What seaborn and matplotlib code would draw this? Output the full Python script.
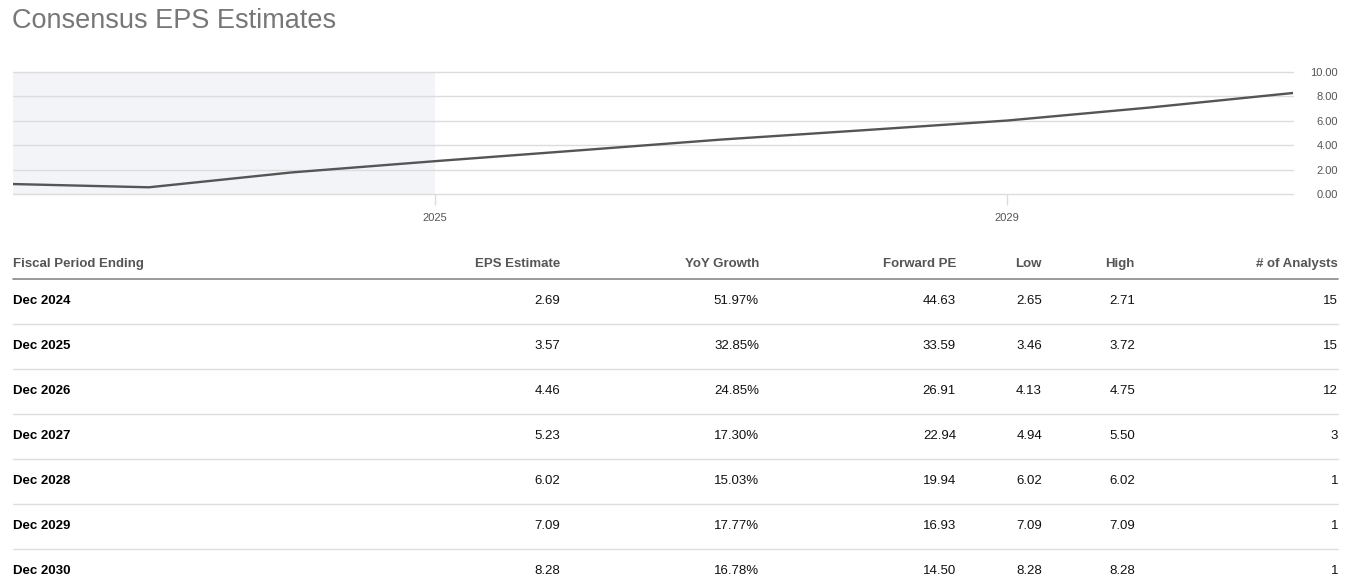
import matplotlib
matplotlib.use("Agg")
import matplotlib.pyplot as plt
import seaborn as sns
import pandas as pd

# chart data: EPS by fiscal year end (plotted at start of the following year)
eps_x = [2022, 2023, 2024, 2025, 2026, 2027, 2028, 2029, 2030, 2031]
eps_y = [0.83, 0.55, 1.77, 2.69, 3.57, 4.46, 5.23, 6.02, 7.09, 8.28]
hist_end = 2025

# table data
periods = ['Dec 2024', 'Dec 2025', 'Dec 2026', 'Dec 2027', 'Dec 2028', 'Dec 2029', 'Dec 2030']
eps_est = ['2.69', '3.57', '4.46', '5.23', '6.02', '7.09', '8.28']
yoy = ['51.97%', '32.85%', '24.85%', '17.30%', '15.03%', '17.77%', '16.78%']
fwd_pe = ['44.63', '33.59', '26.91', '22.94', '19.94', '16.93', '14.50']
low = ['2.65', '3.46', '4.13', '4.94', '6.02', '7.09', '8.28']
high = ['2.71', '3.72', '4.75', '5.50', '6.02', '7.09', '8.28']
analysts = ['15', '15', '12', '3', '1', '1', '1']
headers = ['Fiscal Period Ending', 'EPS Estimate', 'YoY Growth', 'Forward PE', 'Low', 'High', '# of Analysts']

sns.set_theme(style="white")
plt.rcParams['font.family'] = ['Liberation Sans', 'DejaVu Sans']

W, H = 1363, 587
fig = plt.figure(figsize=(W / 100, H / 100), dpi=100)

# chart axes
ax = fig.add_axes([13 / W, 1 - 194 / H, (1293 - 13) / W, (194 - 72) / H])
ax.set_xlim(2022.05, 2031)
ax.set_ylim(0, 10)
ax.axvspan(2022.05, hist_end, color='#f3f4f8', zorder=0, lw=0)
for v in range(0, 11, 2):
    ax.axhline(v, color='#dcdcdc', lw=1, zorder=1, clip_on=False)
df = pd.DataFrame({'x': eps_x, 'y': eps_y})
sns.lineplot(data=df, x='x', y='y', ax=ax, color='#555555', lw=1.7, zorder=3)
for s in ax.spines.values():
    s.set_visible(False)
ax.set_xlabel('')
ax.set_ylabel('')
ax.set_xticks([2025, 2029])
ax.set_xticklabels(['2025', '2029'])
ax.tick_params(axis='x', bottom=True, length=8, width=1, color='#dcdcdc',
               labelsize=8, labelcolor='#555555', pad=6)
ax.yaxis.tick_right()
ax.set_yticks(range(0, 11, 2))
ax.set_yticklabels(['%.2f' % v for v in range(0, 11, 2)])
ax.tick_params(axis='y', right=False, length=0, labelsize=8, labelcolor='#555555',
               pad=(1338 - 1293) * 0.72)
for lab in ax.get_yticklabels():
    lab.set_horizontalalignment('right')
ax.grid(False)

# overlay axes for title and table in pixel coords
ov = fig.add_axes([0, 0, 1, 1], facecolor='none')
ov.set_xlim(0, W)
ov.set_ylim(H, 0)
ov.axis('off')

ov.text(12, 21, 'Consensus EPS Estimates', fontsize=19.5, color='#777777', va='center', ha='left')

col_x = [13, 560, 759, 956, 1042, 1135, 1338]
col_ha = ['left'] + ['right'] * 6
header_y = 264
for hx, ha, t in zip(col_x, col_ha, headers):
    ov.text(hx, header_y, t, fontsize=9.5, fontweight='bold', color='#555555', ha=ha, va='center')
ov.plot([13, 1338], [279, 279], color='#888888', lw=1.2)

row_y0, row_h = 301, 45
cols = [periods, eps_est, yoy, fwd_pe, low, high, analysts]
for i in range(len(periods)):
    y = row_y0 + i * row_h
    for j, (cx, ha) in enumerate(zip(col_x, col_ha)):
        ov.text(cx, y, cols[j][i], fontsize=9.5, color='#111111' if j else '#000000',
                fontweight='bold' if j == 0 else 'normal', ha=ha, va='center')
    if i < len(periods) - 1:
        ov.plot([13, 1338], [y + 23, y + 23], color='#dddddd', lw=1)

fig.savefig('out.png', dpi=100)
